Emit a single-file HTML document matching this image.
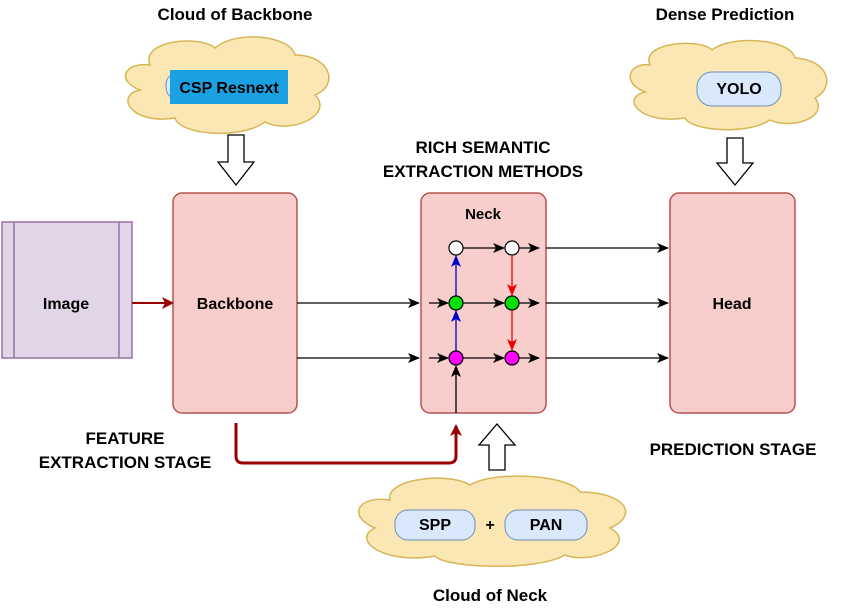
<!DOCTYPE html>
<html><head><style>body{margin:0;background:#fff}svg{display:block}text{font-family:"Liberation Sans",sans-serif;font-weight:bold}</style></head><body>
<svg width="858" height="609" viewBox="0 0 858 609" xmlns="http://www.w3.org/2000/svg">
<defs>
<marker id="ab" markerWidth="12" markerHeight="12" refX="11" refY="6" orient="auto" markerUnits="userSpaceOnUse"><path d="M0,1 L12,6 L0,11 L3,6z" fill="#000"/></marker>
<marker id="ar" markerWidth="12" markerHeight="12" refX="11" refY="6" orient="auto" markerUnits="userSpaceOnUse"><path d="M0,1 L12,6 L0,11 L3,6z" fill="#e00"/></marker>
<marker id="abl" markerWidth="12" markerHeight="12" refX="11" refY="6" orient="auto" markerUnits="userSpaceOnUse"><path d="M0,1 L12,6 L0,11 L3,6z" fill="#00c"/></marker>
<marker id="ad" markerWidth="12" markerHeight="12" refX="10" refY="6" orient="auto" markerUnits="userSpaceOnUse"><path d="M0,0 L12,6 L0,12 L3,6z" fill="#990000"/></marker>
</defs>
<g fill="#fbe7b3" stroke="#d6b656" stroke-width="1.5">
<path d="M150,65 C140,40 200,35 215,48 C235,30 290,35 295,55 C330,55 340,85 315,95 C335,115 290,135 265,122 C240,140 180,135 175,118 C130,125 115,95 140,90 C115,80 125,62 150,65z"/>
<path d="M650,65 C640,42 700,38 712,50 C730,35 790,38 795,58 C830,60 835,88 815,98 C830,118 790,130 770,120 C745,136 690,130 685,118 C640,125 620,98 645,92 C620,82 630,62 650,65z"/>
<path d="M390,500 C385,478 450,472 470,485 C495,470 570,475 580,492 C625,492 640,515 610,528 C640,545 590,565 565,555 C535,572 445,568 435,556 C385,565 350,540 375,528 C345,515 360,495 390,500z"/>
</g>
<rect x="166" y="72" width="30" height="28" rx="13" fill="#dae8fc" stroke="#6c8ebf"/>
<rect x="170" y="70" width="118" height="34" fill="#1ba1e2"/>
<text x="229" y="93" text-anchor="middle" font-size="16" fill="#000">CSP Resnext</text>
<rect x="697" y="72" width="84" height="34" rx="15" fill="#dae8fc" stroke="#6c8ebf"/>
<text x="739" y="94" text-anchor="middle" font-size="16">YOLO</text>
<rect x="395" y="510" width="80" height="30" rx="13" fill="#dae8fc" stroke="#6c8ebf"/>
<text x="435" y="530" text-anchor="middle" font-size="16">SPP</text>
<text x="490" y="530" text-anchor="middle" font-size="16">+</text>
<rect x="505" y="510" width="82" height="30" rx="13" fill="#dae8fc" stroke="#6c8ebf"/>
<text x="546" y="530" text-anchor="middle" font-size="16">PAN</text>
<text x="235" y="20" text-anchor="middle" font-size="17">Cloud of Backbone</text>
<text x="725" y="20" text-anchor="middle" font-size="17">Dense Prediction</text>
<text x="483" y="153" text-anchor="middle" font-size="17">RICH SEMANTIC</text>
<text x="483" y="177" text-anchor="middle" font-size="17">EXTRACTION METHODS</text>
<text x="66" y="234" text-anchor="middle" font-size="17">INPUT</text>
<text x="125" y="444" text-anchor="middle" font-size="17">FEATURE</text>
<text x="125" y="468" text-anchor="middle" font-size="17">EXTRACTION STAGE</text>
<text x="733" y="455" text-anchor="middle" font-size="17">PREDICTION STAGE</text>
<text x="490" y="601" text-anchor="middle" font-size="17">Cloud of Neck</text>
<g fill="#fff" stroke="#000" stroke-width="1.3">
<path d="M228,135 H244 V162 H254 L236,185 L218,162 H228z"/>
<path d="M727,138 H743 V163 H753 L735,185 L717,163 H727z"/>
<path d="M489,470 H505 V445 H515 L497,424 L479,445 H489z"/>
</g>
<rect x="2" y="222" width="130" height="136" fill="#e1d5e7" stroke="#9673a6" stroke-width="1.5"/>
<line x1="14" y1="222" x2="14" y2="358" stroke="#9673a6" stroke-width="1.5"/>
<line x1="119" y1="222" x2="119" y2="358" stroke="#9673a6" stroke-width="1.5"/>
<text x="66" y="309" text-anchor="middle" font-size="16">Image</text>
<rect x="173" y="193" width="124" height="220" rx="9" fill="#f8cecc" stroke="#b85450" stroke-width="1.5"/>
<text x="235" y="309" text-anchor="middle" font-size="16">Backbone</text>
<rect x="421" y="193" width="125" height="220" rx="9" fill="#f8cecc" stroke="#b85450" stroke-width="1.5"/>
<text x="483" y="219" text-anchor="middle" font-size="15">Neck</text>
<rect x="670" y="193" width="125" height="220" rx="9" fill="#f8cecc" stroke="#b85450" stroke-width="1.5"/>
<text x="732" y="309" text-anchor="middle" font-size="16">Head</text>
<line x1="132" y1="303" x2="172" y2="303" stroke="#990000" stroke-width="2" marker-end="url(#ad)"/>
<g stroke="#000" stroke-width="1.3">
<line x1="297" y1="303" x2="419" y2="303" marker-end="url(#ab)"/>
<line x1="297" y1="358" x2="419" y2="358" marker-end="url(#ab)"/>
<line x1="429" y1="303" x2="448" y2="303" marker-end="url(#ab)"/>
<line x1="429" y1="358" x2="448" y2="358" marker-end="url(#ab)"/>
<line x1="463" y1="248" x2="504" y2="248" marker-end="url(#ab)"/>
<line x1="463" y1="303" x2="504" y2="303" marker-end="url(#ab)"/>
<line x1="463" y1="358" x2="504" y2="358" marker-end="url(#ab)"/>
<line x1="519" y1="248" x2="539" y2="248" marker-end="url(#ab)"/>
<line x1="519" y1="303" x2="539" y2="303" marker-end="url(#ab)"/>
<line x1="519" y1="358" x2="539" y2="358" marker-end="url(#ab)"/>
<line x1="546" y1="248" x2="668" y2="248" marker-end="url(#ab)"/>
<line x1="546" y1="303" x2="668" y2="303" marker-end="url(#ab)"/>
<line x1="546" y1="358" x2="668" y2="358" marker-end="url(#ab)"/>
<line x1="456" y1="413" x2="456" y2="366" marker-end="url(#ab)"/>
</g>
<line x1="456" y1="351" x2="456" y2="311" stroke="#00c" stroke-width="1.3" marker-end="url(#abl)"/>
<line x1="456" y1="296" x2="456" y2="256" stroke="#00c" stroke-width="1.3" marker-end="url(#abl)"/>
<line x1="512" y1="256" x2="512" y2="295" stroke="#e00" stroke-width="1.3" marker-end="url(#ar)"/>
<line x1="512" y1="311" x2="512" y2="350" stroke="#e00" stroke-width="1.3" marker-end="url(#ar)"/>
<path d="M236,423 V456 Q236,463 243,463 H449 Q456,463 456,456 V426" fill="none" stroke="#990000" stroke-width="3" marker-end="url(#ad)"/>
<g stroke="#000" stroke-width="1.2">
<circle cx="456" cy="248" r="7" fill="#fff"/><circle cx="512" cy="248" r="7" fill="#fff"/>
<circle cx="456" cy="303" r="7" fill="#00e000"/><circle cx="512" cy="303" r="7" fill="#00e000"/>
<circle cx="456" cy="358" r="7" fill="#f0f"/><circle cx="512" cy="358" r="7" fill="#f0f"/>
</g>
</svg>
</body></html>
